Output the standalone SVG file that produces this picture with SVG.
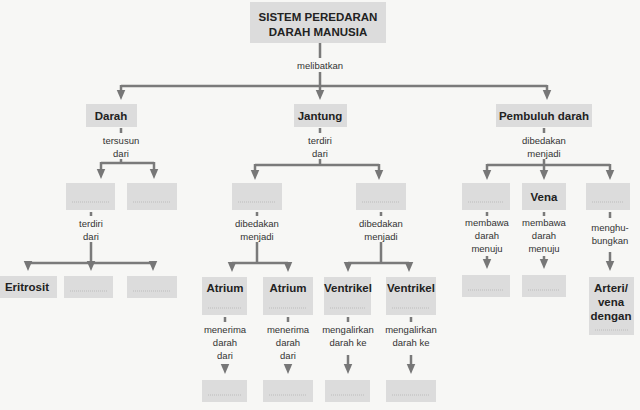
<svg xmlns="http://www.w3.org/2000/svg" width="640" height="410" viewBox="0 0 640 410">
<defs>
<marker id="ah" markerWidth="4" markerHeight="4" refX="2" refY="2" orient="auto" markerUnits="strokeWidth"><path d="M0,0.3 L4,2 L0,3.7 Z" fill="#777"/></marker>
<style>
.b{fill:#dcdcdc}
.bl{stroke:#aaa;stroke-width:0.6;stroke-dasharray:1 1}
.t{font-family:"Liberation Sans",Arial,sans-serif;font-weight:bold;font-size:11.5px;fill:#222;text-anchor:middle}
.l{font-family:"Liberation Sans",Arial,sans-serif;font-size:9.5px;fill:#333;text-anchor:middle}
.c{fill:none;stroke:#7a7a7a;stroke-width:2.5}
.a{fill:none;stroke:#7a7a7a;stroke-width:2.5;marker-end:url(#ah)}
</style>
</defs>
<rect width="640" height="410" fill="#f7f7f5"/>
<g id="connectors">
<path class="c" d="M320,43V58M320,72V86M121,86H547M121,128V133M121,159V163M101,163H154M320,128V133M320,159V165M255,165H379M544,128V133M544,159V165M487,165H610"/>
<line class="a" x1="121" y1="85" x2="121" y2="95"/>
<line class="a" x1="320" y1="85" x2="320" y2="95"/>
<line class="a" x1="547" y1="85" x2="547" y2="95"/>
<line class="a" x1="101" y1="162" x2="101" y2="174"/>
<line class="a" x1="154" y1="162" x2="154" y2="174"/>
<line class="a" x1="255" y1="164" x2="255" y2="175"/>
<line class="a" x1="379" y1="164" x2="379" y2="175"/>
<line class="a" x1="487" y1="164" x2="487" y2="175"/>
<line class="a" x1="544" y1="164" x2="544" y2="175"/>
<line class="a" x1="610" y1="164" x2="610" y2="175"/>
<path class="c" d="M91,212V216M91,242V263M28,263H153M257,212V216M257,242V263M232,263H288M381,212V216M381,242V263M348,263H409M487,212V216M544,212V216M610,212V218"/>
<line class="a" x1="28" y1="262" x2="28" y2="266"/>
<line class="a" x1="91" y1="262" x2="91" y2="266"/>
<line class="a" x1="153" y1="262" x2="153" y2="266"/>
<line class="a" x1="232" y1="262" x2="232" y2="267"/>
<line class="a" x1="288" y1="262" x2="288" y2="267"/>
<line class="a" x1="348" y1="262" x2="348" y2="267"/>
<line class="a" x1="409" y1="262" x2="409" y2="267"/>
<line class="a" x1="487" y1="256" x2="487" y2="264"/>
<line class="a" x1="544" y1="256" x2="544" y2="264"/>
<line class="a" x1="610" y1="252" x2="610" y2="266"/>
<path class="c" d="M225,317V322M288,317V322M348,317V322M411,317V322"/>
<line class="a" x1="225" y1="364" x2="225" y2="369"/>
<line class="a" x1="288" y1="364" x2="288" y2="369"/>
<line class="a" x1="348" y1="355" x2="348" y2="369"/>
<line class="a" x1="411" y1="355" x2="411" y2="369"/>
</g>
<g id="n-root"><rect class="b" x="250" y="2" width="136" height="41"/><text class="t" x="318" y="21">SISTEM PEREDARAN</text><text class="t" x="318" y="36">DARAH MANUSIA</text></g>
<text class="l" x="320" y="69">melibatkan</text>
<g id="n-darah"><rect class="b" x="86" y="104" width="51" height="23"/><text class="t" x="111" y="120">Darah</text></g>
<g id="n-jantung"><rect class="b" x="294" y="104" width="53" height="23"/><text class="t" x="320" y="120">Jantung</text></g>
<g id="n-pembuluh"><rect class="b" x="496" y="104" width="96" height="23"/><text class="t" x="544" y="120">Pembuluh darah</text></g>
<text class="l" x="121" y="144">tersusun</text><text class="l" x="121" y="157">dari</text>
<text class="l" x="320" y="144">terdiri</text><text class="l" x="320" y="157">dari</text>
<text class="l" x="544" y="144">dibedakan</text><text class="l" x="544" y="157">menjadi</text>
<g id="n-d1"><rect class="b" x="66" y="183" width="49" height="27"/><line class="bl" x1="72" y1="202" x2="109" y2="202"/></g>
<g id="n-d2"><rect class="b" x="127" y="183" width="50" height="27"/><line class="bl" x1="133" y1="202" x2="171" y2="202"/></g>
<g id="n-j1"><rect class="b" x="232" y="183" width="50" height="27"/><line class="bl" x1="238" y1="202" x2="276" y2="202"/></g>
<g id="n-j2"><rect class="b" x="356" y="183" width="50" height="27"/><line class="bl" x1="362" y1="202" x2="400" y2="202"/></g>
<g id="n-p1"><rect class="b" x="462" y="183" width="48" height="27"/><line class="bl" x1="468" y1="202" x2="504" y2="202"/></g>
<g id="n-vena"><rect class="b" x="522" y="183" width="44" height="27"/><text class="t" x="544" y="201">Vena</text></g>
<g id="n-p3"><rect class="b" x="586" y="183" width="44" height="27"/><line class="bl" x1="592" y1="202" x2="624" y2="202"/></g>
<text class="l" x="91" y="227">terdiri</text><text class="l" x="91" y="240">dari</text>
<text class="l" x="257" y="227">dibedakan</text><text class="l" x="257" y="240">menjadi</text>
<text class="l" x="381" y="227">dibedakan</text><text class="l" x="381" y="240">menjadi</text>
<text class="l" x="487" y="226">membawa</text><text class="l" x="487" y="239">darah</text><text class="l" x="487" y="252">menuju</text>
<text class="l" x="544" y="226">membawa</text><text class="l" x="544" y="239">darah</text><text class="l" x="544" y="252">menuju</text>
<text class="l" x="610" y="231">menghu-</text><text class="l" x="610" y="244">bungkan</text>
<g id="n-eritrosit"><rect class="b" x="0" y="276" width="57" height="22"/><text class="t" x="27" y="291">Eritrosit</text></g>
<g id="n-d3"><rect class="b" x="64" y="276" width="49" height="22"/><line class="bl" x1="70" y1="291" x2="107" y2="291"/></g>
<g id="n-d4"><rect class="b" x="127" y="276" width="50" height="22"/><line class="bl" x1="133" y1="291" x2="171" y2="291"/></g>
<g id="n-atrium1"><rect class="b" x="202" y="277" width="45" height="38"/><text class="t" x="225" y="292">Atrium</text><line class="bl" x1="208" y1="308" x2="241" y2="308"/></g>
<g id="n-atrium2"><rect class="b" x="263" y="277" width="50" height="38"/><text class="t" x="288" y="292">Atrium</text><line class="bl" x1="269" y1="308" x2="307" y2="308"/></g>
<g id="n-ventrikel1"><rect class="b" x="324" y="277" width="47" height="38"/><text class="t" x="348" y="292">Ventrikel</text><line class="bl" x1="330" y1="308" x2="365" y2="308"/></g>
<g id="n-ventrikel2"><rect class="b" x="386" y="277" width="50" height="38"/><text class="t" x="411" y="292">Ventrikel</text><line class="bl" x1="392" y1="308" x2="430" y2="308"/></g>
<g id="n-p4"><rect class="b" x="462" y="275" width="48" height="22"/><line class="bl" x1="468" y1="290" x2="504" y2="290"/></g>
<g id="n-p5"><rect class="b" x="522" y="275" width="44" height="22"/><line class="bl" x1="528" y1="290" x2="560" y2="290"/></g>
<g id="n-arteri"><rect class="b" x="589" y="277" width="45" height="58"/><text class="t" x="611" y="292">Arteri/</text><text class="t" x="611" y="306">vena</text><text class="t" x="611" y="320">dengan</text><line class="bl" x1="595" y1="330" x2="628" y2="330"/></g>
<text class="l" x="225" y="333">menerima</text><text class="l" x="225" y="346">darah</text><text class="l" x="225" y="359">dari</text>
<text class="l" x="288" y="333">menerima</text><text class="l" x="288" y="346">darah</text><text class="l" x="288" y="359">dari</text>
<text class="l" x="348" y="333">mengalirkan</text><text class="l" x="348" y="346">darah ke</text>
<text class="l" x="411" y="333">mengalirkan</text><text class="l" x="411" y="346">darah ke</text>
<g id="n-a1"><rect class="b" x="202" y="380" width="45" height="22"/><line class="bl" x1="208" y1="395" x2="241" y2="395"/></g>
<g id="n-a2"><rect class="b" x="263" y="380" width="50" height="22"/><line class="bl" x1="269" y1="395" x2="307" y2="395"/></g>
<g id="n-v1"><rect class="b" x="325" y="380" width="45" height="22"/><line class="bl" x1="331" y1="395" x2="364" y2="395"/></g>
<g id="n-v2"><rect class="b" x="386" y="380" width="50" height="22"/><line class="bl" x1="392" y1="395" x2="430" y2="395"/></g>
</svg>
